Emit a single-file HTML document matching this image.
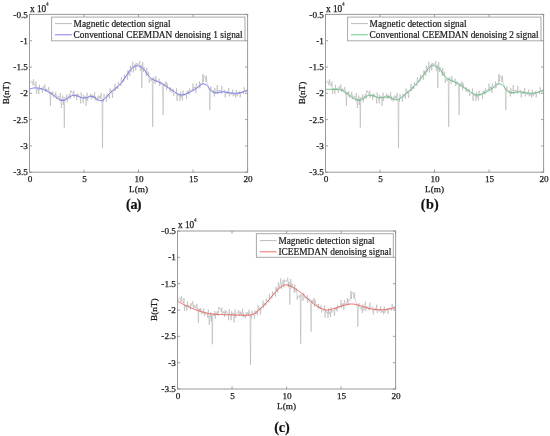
<!DOCTYPE html>
<html><head><meta charset="utf-8"><title>Magnetic detection signal denoising</title><style>
*{margin:0;padding:0}
html,body{width:550px;height:436px;overflow:hidden;background:#fff}
svg{display:block;filter:blur(0.4px)}
.t{font-family:"Liberation Serif",serif;font-size:9.2px;fill:#1a1a1a;stroke:#1a1a1a;stroke-width:0.25px}
.lt{font-family:"Liberation Serif",serif;font-size:9.3px;fill:#1a1a1a;stroke:#1a1a1a;stroke-width:0.2px}
.cap{font-family:"Liberation Serif",serif;font-weight:bold;font-size:14.2px;fill:#111;stroke:#111;stroke-width:0.2px}
.gr{fill:none;stroke:#a8a8a8;stroke-width:0.5}
.ax{fill:none;stroke:#9a9a9a;stroke-width:1}
.lg{fill:#fff;stroke:#a8a8a8;stroke-width:1}
.tk{fill:none;stroke:#8a8a8a;stroke-width:0.8}
</style></head><body>
<svg width="550" height="436" viewBox="0 0 550 436">
<rect width="550" height="436" fill="#fff"/>
<path d="M29.5 84.7L30.0 84.1 30.5 82.9 31.0 81.5 31.5 81.3 32.0 81.0 32.5 82.2 33.0 85.3 33.5 79.3 34.0 83.4 34.5 85.2 35.0 86.2 35.5 86.3 36.0 81.5 36.5 94.0 37.0 89.7 37.4 88.5 37.9 90.1 38.4 88.8 38.9 94.2 39.4 84.8 39.9 89.4 40.4 88.1 40.9 89.6 41.4 89.3 41.9 88.9 42.4 92.9 42.9 86.2 43.4 88.5 43.9 88.9 44.4 87.3 44.9 84.4 45.4 91.7 45.9 88.4 46.4 90.6 46.9 89.0 47.4 90.5 47.9 91.7 48.4 90.3 48.9 87.0 49.4 93.6 49.9 91.7 50.4 106.0 50.9 92.6 51.4 94.1 51.9 91.6 52.4 94.1 52.9 91.6 53.3 97.4 53.8 97.3 54.3 96.5 54.8 94.3 55.3 95.5 55.8 91.9 56.3 99.4 56.8 96.4 57.3 95.5 57.8 96.6 58.3 97.7 58.8 96.2 59.3 97.8 59.8 100.9 60.3 93.0 60.8 97.7 61.3 108.0 61.8 99.1 62.3 100.5 62.8 95.6 63.3 105.0 63.8 98.6 64.3 127.6 64.8 97.1 65.3 97.9 65.8 98.1 66.3 99.1 66.8 94.4 67.3 102.2 67.8 96.7 68.3 96.3 68.7 97.6 69.2 94.9 69.7 94.2 70.2 99.2 70.7 90.3 71.2 91.9 71.7 91.1 72.2 92.6 72.7 93.3 73.2 95.1 73.7 90.8 74.2 97.9 74.7 95.4 75.2 94.6 75.7 96.1 76.2 95.2 76.7 100.1 77.2 93.4 77.7 96.6 78.2 94.4 78.7 94.3 79.2 96.5 79.7 96.4 80.2 97.6 80.7 103.5 81.2 92.3 81.7 97.3 82.2 97.7 82.7 98.1 83.2 103.4 83.7 94.6 84.1 97.9 84.6 97.9 85.1 96.2 85.6 97.4 86.1 106.0 86.6 96.5 87.1 92.7 87.6 101.0 88.1 97.8 88.6 96.5 89.1 96.3 89.6 95.9 90.1 96.2 90.6 93.5 91.1 99.2 91.6 97.2 92.1 94.7 92.6 98.0 93.1 95.7 93.6 98.2 94.1 96.5 94.6 92.0 95.1 100.4 95.6 96.6 96.1 99.9 96.6 100.3 97.1 99.0 97.6 101.4 98.1 95.7 98.6 97.1 99.1 98.5 99.6 95.7 100.0 95.6 100.5 99.2 101.0 93.0 101.5 95.1 102.0 98.3 102.5 148.0 103.0 99.0 103.5 101.6 104.0 94.1 104.5 97.4 105.0 97.3 105.5 97.7 106.0 96.9 106.5 101.8 107.0 93.7 107.5 95.6 108.0 97.3 108.5 94.5 109.0 94.0 109.5 98.6 110.0 88.4 110.5 92.4 111.0 93.5 111.5 92.5 112.0 90.3 112.5 97.9 113.0 91.3 113.5 90.9 114.0 89.8 114.5 90.6 115.0 83.8 115.4 91.2 115.9 87.5 116.4 86.5 116.9 88.4 117.4 86.4 117.9 88.9 118.4 82.0 118.9 84.9 119.4 84.3 119.9 85.1 120.4 83.8 120.9 85.9 121.4 77.3 121.9 82.9 122.4 81.9 122.9 81.2 123.4 79.5 123.9 81.8 124.4 74.6 124.9 78.7 125.4 77.0 125.9 76.7 126.4 76.1 126.9 75.5 127.4 79.8 127.9 70.2 128.4 74.7 128.9 71.5 129.4 73.1 129.9 76.0 130.4 65.7 130.8 72.1 131.3 71.4 131.8 68.1 132.3 66.9 132.8 61.7 133.3 72.5 133.8 67.2 134.3 67.6 134.8 64.5 135.3 63.6 135.8 70.7 136.3 62.8 136.8 64.8 137.3 65.0 137.8 64.0 138.3 63.5 138.8 64.8 139.3 63.9 139.8 61.0 140.3 70.7 140.8 65.0 141.3 65.3 141.8 88.0 142.3 64.2 142.8 62.3 143.3 71.9 143.8 67.0 144.3 67.2 144.8 69.7 145.3 70.8 145.8 73.2 146.3 76.0 146.7 67.8 147.2 74.5 147.7 75.4 148.2 74.9 148.7 71.7 149.2 83.0 149.7 79.3 150.2 79.1 150.7 79.1 151.2 81.0 151.7 80.1 152.2 77.9 152.7 127.0 153.2 78.4 153.7 77.2 154.2 79.9 154.7 81.8 155.2 83.9 155.7 76.1 156.2 79.1 156.7 81.5 157.2 80.7 157.7 81.4 158.2 81.8 158.7 82.1 159.2 78.6 159.7 86.2 160.2 82.2 160.7 81.4 161.2 83.2 161.7 82.0 162.1 84.2 162.6 89.0 163.1 115.0 163.6 84.3 164.1 83.0 164.6 86.3 165.1 86.0 165.6 84.0 166.1 81.3 166.6 90.2 167.1 83.3 167.6 87.1 168.1 87.4 168.6 88.0 169.1 87.4 169.6 88.7 170.1 91.9 170.6 87.4 171.1 90.4 171.6 90.5 172.1 92.3 172.6 90.6 173.1 88.8 173.6 96.0 174.1 94.3 174.6 93.7 175.1 93.6 175.6 93.5 176.1 93.3 176.6 88.4 177.1 101.0 177.5 93.6 178.0 94.2 178.5 96.0 179.0 95.5 179.5 95.0 180.0 101.1 180.5 91.6 181.0 97.4 181.5 95.6 182.0 95.0 182.5 100.3 183.0 90.5 183.5 94.6 184.0 95.9 184.5 94.2 185.0 94.2 185.5 93.9 186.0 93.9 186.5 98.9 187.0 90.9 187.5 91.7 188.0 93.2 188.5 90.8 189.0 94.7 189.5 88.3 190.0 91.2 190.5 90.9 191.0 91.3 191.5 90.3 192.0 89.2 192.5 90.1 193.0 83.4 193.4 91.1 193.9 88.4 194.4 87.0 194.9 88.6 195.4 86.7 195.9 93.2 196.4 83.5 196.9 86.5 197.4 88.0 197.9 88.0 198.4 86.5 198.9 86.7 199.4 81.3 199.9 88.5 200.4 84.4 200.9 82.9 201.4 83.6 201.9 84.0 202.4 82.3 202.9 74.2 203.4 82.2 203.9 75.8 204.4 75.9 204.9 75.8 205.4 77.0 205.9 82.0 206.4 75.8 206.9 81.9 207.4 83.8 207.9 84.8 208.4 86.7 208.8 89.3 209.3 88.9 209.8 110.0 210.3 92.4 210.8 86.4 211.3 88.7 211.8 89.7 212.3 92.3 212.8 92.5 213.3 91.7 213.8 90.3 214.3 96.5 214.8 87.8 215.3 92.3 215.8 93.8 216.3 91.3 216.8 90.1 217.3 85.0 217.8 94.2 218.3 90.8 218.8 89.9 219.3 91.0 219.8 89.8 220.3 92.0 220.8 91.8 221.3 93.8 221.8 85.8 222.3 92.0 222.8 91.6 223.3 91.2 223.8 91.5 224.2 90.8 224.7 89.8 225.2 97.7 225.7 92.5 226.2 92.9 226.7 93.9 227.2 91.2 227.7 92.6 228.2 93.7 228.7 88.0 229.2 96.5 229.7 94.4 230.2 93.4 230.7 92.4 231.2 92.6 231.7 94.7 232.2 94.2 232.7 89.6 233.2 96.3 233.7 94.7 234.2 95.5 234.7 93.7 235.2 93.9 235.7 97.8 236.2 89.9 236.7 94.4 237.2 96.2 237.7 93.8 238.2 94.4 238.7 92.4 239.2 93.5 239.7 91.3 240.1 97.4 240.6 94.0 241.1 93.2 241.6 91.5 242.1 91.8 242.6 91.5 243.1 91.7 243.6 94.0 244.1 87.2 244.6 90.8 245.1 90.4 245.6 90.2 246.1 91.2 246.6 92.0 247.1 89.4 247.6 90.9" class="gr"/>
<path d="M325.5 84.7L326.0 84.1 326.5 82.9 327.0 81.5 327.5 81.3 328.0 81.0 328.5 82.2 329.0 85.3 329.5 79.3 330.0 83.4 330.5 85.2 331.0 86.2 331.5 86.3 332.0 81.5 332.5 94.0 333.0 89.7 333.4 88.5 333.9 90.1 334.4 88.8 334.9 94.2 335.4 84.8 335.9 89.4 336.4 88.1 336.9 89.6 337.4 89.3 337.9 88.9 338.4 92.9 338.9 86.2 339.4 88.5 339.9 88.9 340.4 87.3 340.9 84.4 341.4 91.7 341.9 88.4 342.4 90.6 342.9 89.0 343.4 90.5 343.9 91.7 344.4 90.3 344.9 87.0 345.4 93.6 345.9 91.7 346.4 106.0 346.9 92.6 347.4 94.1 347.9 91.6 348.4 94.1 348.9 91.6 349.3 97.4 349.8 97.3 350.3 96.5 350.8 94.3 351.3 95.5 351.8 91.9 352.3 99.4 352.8 96.4 353.3 95.5 353.8 96.6 354.3 97.7 354.8 96.2 355.3 97.8 355.8 100.9 356.3 93.0 356.8 97.7 357.3 108.0 357.8 99.1 358.3 100.5 358.8 95.6 359.3 105.0 359.8 98.6 360.3 127.6 360.8 97.1 361.3 97.9 361.8 98.1 362.3 99.1 362.8 94.4 363.3 102.2 363.8 96.7 364.3 96.3 364.7 97.6 365.2 94.9 365.7 94.2 366.2 99.2 366.7 90.3 367.2 91.9 367.7 91.1 368.2 92.6 368.7 93.3 369.2 95.1 369.7 90.8 370.2 97.9 370.7 95.4 371.2 94.6 371.7 96.1 372.2 95.2 372.7 100.1 373.2 93.4 373.7 96.6 374.2 94.4 374.7 94.3 375.2 96.5 375.7 96.4 376.2 97.6 376.7 103.5 377.2 92.3 377.7 97.3 378.2 97.7 378.7 98.1 379.2 103.4 379.7 94.6 380.1 97.9 380.6 97.9 381.1 96.2 381.6 97.4 382.1 106.0 382.6 96.5 383.1 92.7 383.6 101.0 384.1 97.8 384.6 96.5 385.1 96.3 385.6 95.9 386.1 96.2 386.6 93.5 387.1 99.2 387.6 97.2 388.1 94.7 388.6 98.0 389.1 95.7 389.6 98.2 390.1 96.5 390.6 92.0 391.1 100.4 391.6 96.6 392.1 99.9 392.6 100.3 393.1 99.0 393.6 101.4 394.1 95.7 394.6 97.1 395.1 98.5 395.6 95.7 396.0 95.6 396.5 99.2 397.0 93.0 397.5 95.1 398.0 98.3 398.5 148.0 399.0 99.0 399.5 101.6 400.0 94.1 400.5 97.4 401.0 97.3 401.5 97.7 402.0 96.9 402.5 101.8 403.0 93.7 403.5 95.6 404.0 97.3 404.5 94.5 405.0 94.0 405.5 98.6 406.0 88.4 406.5 92.4 407.0 93.5 407.5 92.5 408.0 90.3 408.5 97.9 409.0 91.3 409.5 90.9 410.0 89.8 410.5 90.6 411.0 83.8 411.4 91.2 411.9 87.5 412.4 86.5 412.9 88.4 413.4 86.4 413.9 88.9 414.4 82.0 414.9 84.9 415.4 84.3 415.9 85.1 416.4 83.8 416.9 85.9 417.4 77.3 417.9 82.9 418.4 81.9 418.9 81.2 419.4 79.5 419.9 81.8 420.4 74.6 420.9 78.7 421.4 77.0 421.9 76.7 422.4 76.1 422.9 75.5 423.4 79.8 423.9 70.2 424.4 74.7 424.9 71.5 425.4 73.1 425.9 76.0 426.4 65.7 426.8 72.1 427.3 71.4 427.8 68.1 428.3 66.9 428.8 61.7 429.3 72.5 429.8 67.2 430.3 67.6 430.8 64.5 431.3 63.6 431.8 70.7 432.3 62.8 432.8 64.8 433.3 65.0 433.8 64.0 434.3 63.5 434.8 64.8 435.3 63.9 435.8 61.0 436.3 70.7 436.8 65.0 437.3 65.3 437.8 88.0 438.3 64.2 438.8 62.3 439.3 71.9 439.8 67.0 440.3 67.2 440.8 69.7 441.3 70.8 441.8 73.2 442.3 76.0 442.7 67.8 443.2 74.5 443.7 75.4 444.2 74.9 444.7 71.7 445.2 83.0 445.7 79.3 446.2 79.1 446.7 79.1 447.2 81.0 447.7 80.1 448.2 77.9 448.7 127.0 449.2 78.4 449.7 77.2 450.2 79.9 450.7 81.8 451.2 83.9 451.7 76.1 452.2 79.1 452.7 81.5 453.2 80.7 453.7 81.4 454.2 81.8 454.7 82.1 455.2 78.6 455.7 86.2 456.2 82.2 456.7 81.4 457.2 83.2 457.7 82.0 458.1 84.2 458.6 89.0 459.1 115.0 459.6 84.3 460.1 83.0 460.6 86.3 461.1 86.0 461.6 84.0 462.1 81.3 462.6 90.2 463.1 83.3 463.6 87.1 464.1 87.4 464.6 88.0 465.1 87.4 465.6 88.7 466.1 91.9 466.6 87.4 467.1 90.4 467.6 90.5 468.1 92.3 468.6 90.6 469.1 88.8 469.6 96.0 470.1 94.3 470.6 93.7 471.1 93.6 471.6 93.5 472.1 93.3 472.6 88.4 473.1 101.0 473.5 93.6 474.0 94.2 474.5 96.0 475.0 95.5 475.5 95.0 476.0 101.1 476.5 91.6 477.0 97.4 477.5 95.6 478.0 95.0 478.5 100.3 479.0 90.5 479.5 94.6 480.0 95.9 480.5 94.2 481.0 94.2 481.5 93.9 482.0 93.9 482.5 98.9 483.0 90.9 483.5 91.7 484.0 93.2 484.5 90.8 485.0 94.7 485.5 88.3 486.0 91.2 486.5 90.9 487.0 91.3 487.5 90.3 488.0 89.2 488.5 90.1 489.0 83.4 489.4 91.1 489.9 88.4 490.4 87.0 490.9 88.6 491.4 86.7 491.9 93.2 492.4 83.5 492.9 86.5 493.4 88.0 493.9 88.0 494.4 86.5 494.9 86.7 495.4 81.3 495.9 88.5 496.4 84.4 496.9 82.9 497.4 83.6 497.9 84.0 498.4 82.3 498.9 74.2 499.4 82.2 499.9 75.8 500.4 75.9 500.9 75.8 501.4 77.0 501.9 82.0 502.4 75.8 502.9 81.9 503.4 83.8 503.9 84.8 504.4 86.7 504.8 89.3 505.3 88.9 505.8 110.0 506.3 92.4 506.8 86.4 507.3 88.7 507.8 89.7 508.3 92.3 508.8 92.5 509.3 91.7 509.8 90.3 510.3 96.5 510.8 87.8 511.3 92.3 511.8 93.8 512.3 91.3 512.8 90.1 513.3 85.0 513.8 94.2 514.3 90.8 514.8 89.9 515.3 91.0 515.8 89.8 516.3 92.0 516.8 91.8 517.3 93.8 517.8 85.8 518.3 92.0 518.8 91.6 519.3 91.2 519.8 91.5 520.2 90.8 520.7 89.8 521.2 97.7 521.7 92.5 522.2 92.9 522.7 93.9 523.2 91.2 523.7 92.6 524.2 93.7 524.7 88.0 525.2 96.5 525.7 94.4 526.2 93.4 526.7 92.4 527.2 92.6 527.7 94.7 528.2 94.2 528.7 89.6 529.2 96.3 529.7 94.7 530.2 95.5 530.7 93.7 531.2 93.9 531.7 97.8 532.2 89.9 532.7 94.4 533.2 96.2 533.7 93.8 534.2 94.4 534.7 92.4 535.2 93.5 535.7 91.3 536.1 97.4 536.6 94.0 537.1 93.2 537.6 91.5 538.1 91.8 538.6 91.5 539.1 91.7 539.6 94.0 540.1 87.2 540.6 90.8 541.1 90.4 541.6 90.2 542.1 91.2 542.6 92.0 543.1 89.4 543.6 90.9" class="gr"/>
<path d="M177.5 301.4L178.0 300.8 178.5 299.5 179.0 298.2 179.5 298.0 180.0 297.7 180.5 298.9 181.0 301.9 181.5 296.0 182.0 300.1 182.5 301.9 183.0 302.8 183.5 303.0 184.0 298.1 184.5 310.7 185.0 306.4 185.4 305.2 185.9 306.8 186.4 305.5 186.9 310.9 187.4 301.5 187.9 306.1 188.4 304.8 188.9 306.3 189.4 306.0 189.9 305.6 190.4 309.6 190.9 302.9 191.4 305.2 191.9 305.6 192.4 304.0 192.9 301.1 193.4 308.4 193.9 305.1 194.4 307.3 194.9 305.7 195.4 307.2 195.9 308.4 196.4 307.0 196.9 303.7 197.4 310.3 197.9 308.4 198.4 322.7 198.9 309.3 199.4 310.8 199.9 308.3 200.4 310.8 200.9 308.3 201.3 314.1 201.8 314.0 202.3 313.2 202.8 311.0 203.3 312.2 203.8 308.6 204.3 316.1 204.8 313.1 205.3 312.2 205.8 313.3 206.3 314.4 206.8 312.9 207.3 314.5 207.8 317.6 208.3 309.7 208.8 314.5 209.3 324.7 209.8 315.8 210.3 317.2 210.8 312.3 211.3 321.7 211.8 315.3 212.3 344.3 212.8 313.8 213.3 314.6 213.8 314.8 214.3 315.8 214.8 311.1 215.3 318.9 215.8 313.4 216.3 313.0 216.7 314.3 217.2 311.6 217.7 310.9 218.2 315.9 218.7 307.0 219.2 308.6 219.7 307.8 220.2 309.3 220.7 310.0 221.2 311.8 221.7 307.5 222.2 314.6 222.7 312.1 223.2 311.3 223.7 312.8 224.2 311.9 224.7 316.8 225.2 310.1 225.7 313.3 226.2 311.1 226.7 311.0 227.2 313.2 227.7 313.1 228.2 314.3 228.7 320.2 229.2 309.0 229.7 314.0 230.2 314.4 230.7 314.8 231.2 320.2 231.7 311.3 232.1 314.6 232.6 314.6 233.1 312.9 233.6 314.1 234.1 322.7 234.6 313.2 235.1 309.4 235.6 317.7 236.1 314.5 236.6 313.2 237.1 313.0 237.6 312.7 238.1 312.9 238.6 310.2 239.1 316.0 239.6 313.9 240.1 311.4 240.6 314.7 241.1 312.4 241.6 314.9 242.1 313.2 242.6 308.7 243.1 317.1 243.6 313.3 244.1 316.6 244.6 317.0 245.1 315.7 245.6 318.1 246.1 312.4 246.6 313.8 247.1 315.2 247.6 312.4 248.0 312.3 248.5 315.9 249.0 309.7 249.5 311.8 250.0 315.0 250.5 364.8 251.0 315.7 251.5 318.3 252.0 310.8 252.5 314.1 253.0 314.0 253.5 314.4 254.0 313.6 254.5 318.6 255.0 310.4 255.5 312.3 256.0 314.0 256.5 311.2 257.0 310.7 257.5 315.3 258.0 305.0 258.5 309.1 259.0 310.2 259.5 309.2 260.0 307.0 260.5 314.6 261.0 308.0 261.5 307.6 262.0 306.5 262.5 307.3 263.0 300.5 263.4 307.9 263.9 304.2 264.4 303.2 264.9 305.1 265.4 303.1 265.9 305.6 266.4 298.7 266.9 301.6 267.4 301.0 267.9 301.7 268.4 300.5 268.9 302.5 269.4 293.9 269.9 299.6 270.4 298.6 270.9 297.9 271.4 296.2 271.9 298.5 272.4 291.3 272.9 295.4 273.4 293.6 273.9 293.3 274.4 292.8 274.9 292.1 275.4 296.5 275.9 286.9 276.4 291.4 276.9 288.1 277.4 289.8 277.9 292.6 278.4 282.4 278.8 288.7 279.3 288.1 279.8 284.8 280.3 283.5 280.8 278.4 281.3 289.2 281.8 283.9 282.3 284.3 282.8 281.2 283.3 280.3 283.8 287.4 284.3 279.5 284.8 281.4 285.3 281.6 285.8 280.7 286.3 280.2 286.8 281.4 287.3 280.6 287.8 277.6 288.3 287.3 288.8 281.7 289.3 282.0 289.8 304.7 290.3 280.8 290.8 279.0 291.3 288.6 291.8 283.7 292.3 283.8 292.8 286.3 293.3 287.5 293.8 289.9 294.3 292.7 294.7 284.5 295.2 291.2 295.7 292.0 296.2 291.6 296.7 288.4 297.2 299.7 297.7 296.0 298.2 295.8 298.7 295.8 299.2 297.6 299.7 296.8 300.2 294.6 300.7 343.7 301.2 295.1 301.7 293.9 302.2 296.6 302.7 298.5 303.2 300.6 303.7 292.8 304.2 295.7 304.7 298.2 305.2 297.4 305.7 298.1 306.2 298.4 306.7 298.8 307.2 295.3 307.7 302.9 308.2 298.9 308.7 298.1 309.2 299.8 309.7 298.7 310.1 300.9 310.6 305.7 311.1 331.7 311.6 301.0 312.1 299.7 312.6 303.0 313.1 302.7 313.6 300.7 314.1 298.0 314.6 306.9 315.1 300.0 315.6 303.8 316.1 304.1 316.6 304.7 317.1 304.1 317.6 305.4 318.1 308.6 318.6 304.0 319.1 307.1 319.6 307.2 320.1 309.0 320.6 307.3 321.1 305.5 321.6 312.7 322.1 311.0 322.6 310.4 323.1 310.3 323.6 310.2 324.1 310.0 324.6 305.1 325.1 317.7 325.5 310.3 326.0 310.9 326.5 312.7 327.0 312.2 327.5 311.7 328.0 317.9 328.5 308.3 329.0 314.1 329.5 312.3 330.0 311.7 330.5 317.0 331.0 307.2 331.5 311.3 332.0 312.6 332.5 310.9 333.0 310.9 333.5 310.6 334.0 310.6 334.5 315.6 335.0 307.6 335.5 308.4 336.0 309.9 336.5 307.5 337.0 311.4 337.5 305.0 338.0 307.9 338.5 307.6 339.0 308.0 339.5 307.0 340.0 305.9 340.5 306.8 341.0 300.1 341.4 307.8 341.9 305.1 342.4 303.7 342.9 305.3 343.4 303.4 343.9 309.9 344.4 300.2 344.9 303.2 345.4 304.7 345.9 304.7 346.4 303.1 346.9 303.4 347.4 298.0 347.9 305.2 348.4 301.1 348.9 299.6 349.4 300.3 349.9 300.7 350.4 298.9 350.9 290.9 351.4 298.9 351.9 292.5 352.4 292.6 352.9 292.4 353.4 293.7 353.9 298.6 354.4 292.5 354.9 298.6 355.4 300.5 355.9 301.5 356.4 303.4 356.8 306.0 357.3 305.6 357.8 326.7 358.3 309.1 358.8 303.1 359.3 305.4 359.8 306.4 360.3 309.0 360.8 309.2 361.3 308.4 361.8 307.0 362.3 313.2 362.8 304.5 363.3 309.0 363.8 310.5 364.3 308.0 364.8 306.8 365.3 301.7 365.8 310.9 366.3 307.5 366.8 306.6 367.3 307.7 367.8 306.4 368.3 308.7 368.8 308.5 369.3 310.5 369.8 302.5 370.3 308.7 370.8 308.3 371.3 307.9 371.8 308.2 372.2 307.5 372.7 306.5 373.2 314.4 373.7 309.1 374.2 309.6 374.7 310.6 375.2 307.9 375.7 309.3 376.2 310.4 376.7 304.7 377.2 313.2 377.7 311.1 378.2 310.1 378.7 309.1 379.2 309.3 379.7 311.4 380.2 310.9 380.7 306.3 381.2 313.0 381.7 311.4 382.2 312.2 382.7 310.4 383.2 310.6 383.7 314.5 384.2 306.6 384.7 311.1 385.2 312.9 385.7 310.5 386.2 311.1 386.7 309.1 387.2 310.2 387.7 308.0 388.1 314.1 388.6 310.7 389.1 309.9 389.6 308.2 390.1 308.5 390.6 308.2 391.1 308.4 391.6 310.7 392.1 303.8 392.6 307.5 393.1 307.1 393.6 306.9 394.1 307.9 394.6 308.7 395.1 306.1 395.6 307.6" class="gr"/>
<path d="M29.50 89.30L30.05 89.05 30.59 88.83 31.14 88.63 31.69 88.46 32.23 88.31 32.78 88.18 33.33 88.07 33.87 87.99 34.42 87.93 34.97 87.89 35.51 87.87 36.06 87.86 36.61 87.88 37.15 87.92 37.70 87.97 38.25 88.05 38.79 88.13 39.34 88.24 39.89 88.36 40.43 88.50 40.98 88.65 41.53 88.82 42.07 89.00 42.62 89.19 43.17 89.40 43.71 89.61 44.26 89.84 44.81 90.09 45.35 90.34 45.90 90.60 46.45 90.87 46.99 91.15 47.54 91.44 48.08 91.74 48.63 92.06 49.18 92.38 49.72 92.71 50.27 93.06 50.82 93.41 51.36 93.78 51.91 94.16 52.46 94.55 53.00 94.95 53.55 95.37 54.10 95.79 54.64 96.21 55.19 96.64 55.74 97.06 56.28 97.48 56.83 97.89 57.38 98.28 57.92 98.65 58.47 99.01 59.02 99.34 59.56 99.64 60.11 99.90 60.66 100.13 61.20 100.30 61.75 100.43 62.30 100.51 62.84 100.52 63.39 100.46 63.94 100.34 64.48 100.17 65.03 99.94 65.58 99.67 66.12 99.36 66.67 99.03 67.22 98.67 67.76 98.30 68.31 97.91 68.86 97.53 69.40 97.16 69.95 96.80 70.50 96.46 71.04 96.16 71.59 95.89 72.14 95.67 72.68 95.50 73.23 95.40 73.78 95.35 74.32 95.35 74.87 95.40 75.42 95.49 75.96 95.62 76.51 95.77 77.06 95.94 77.60 96.14 78.15 96.34 78.70 96.55 79.24 96.77 79.79 96.98 80.34 97.18 80.88 97.37 81.43 97.55 81.98 97.70 82.52 97.82 83.07 97.91 83.62 97.96 84.16 97.98 84.71 97.97 85.25 97.92 85.80 97.84 86.35 97.72 86.89 97.58 87.44 97.41 87.99 97.20 88.53 96.98 89.08 96.75 89.63 96.54 90.17 96.37 90.72 96.27 91.27 96.25 91.81 96.29 92.36 96.41 92.91 96.58 93.45 96.80 94.00 97.07 94.55 97.37 95.09 97.70 95.64 98.06 96.19 98.43 96.73 98.81 97.28 99.18 97.83 99.54 98.37 99.87 98.92 100.17 99.47 100.41 100.01 100.60 100.56 100.71 101.11 100.74 101.65 100.67 102.20 100.51 102.75 100.25 103.29 99.92 103.84 99.51 104.39 99.05 104.93 98.53 105.48 97.98 106.03 97.39 106.57 96.78 107.12 96.16 107.67 95.55 108.21 94.93 108.76 94.32 109.31 93.72 109.85 93.14 110.40 92.59 110.95 92.06 111.49 91.56 112.04 91.08 112.59 90.63 113.13 90.19 113.68 89.77 114.23 89.35 114.77 88.94 115.32 88.53 115.87 88.12 116.41 87.69 116.96 87.25 117.51 86.80 118.05 86.32 118.60 85.83 119.15 85.30 119.69 84.75 120.24 84.17 120.78 83.55 121.33 82.89 121.88 82.20 122.42 81.46 122.97 80.69 123.52 79.89 124.06 79.06 124.61 78.23 125.16 77.39 125.70 76.54 126.25 75.70 126.80 74.86 127.34 74.03 127.89 73.22 128.44 72.42 128.98 71.65 129.53 70.91 130.08 70.20 130.62 69.54 131.17 68.93 131.72 68.37 132.26 67.86 132.81 67.41 133.36 67.03 133.90 66.71 134.45 66.44 135.00 66.23 135.54 66.08 136.09 65.97 136.64 65.91 137.18 65.89 137.73 65.91 138.28 65.97 138.82 66.08 139.37 66.23 139.92 66.42 140.46 66.67 141.01 66.98 141.56 67.34 142.10 67.76 142.65 68.24 143.20 68.78 143.74 69.38 144.29 70.03 144.84 70.71 145.38 71.43 145.93 72.16 146.48 72.91 147.02 73.67 147.57 74.42 148.12 75.16 148.66 75.87 149.21 76.53 149.76 77.15 150.30 77.70 150.85 78.17 151.40 78.58 151.94 78.94 152.49 79.26 153.04 79.54 153.58 79.79 154.13 80.04 154.68 80.28 155.22 80.52 155.77 80.77 156.32 81.02 156.86 81.27 157.41 81.53 157.95 81.79 158.50 82.06 159.05 82.32 159.59 82.60 160.14 82.87 160.69 83.15 161.23 83.43 161.78 83.72 162.33 84.02 162.87 84.33 163.42 84.65 163.97 84.98 164.51 85.32 165.06 85.68 165.61 86.04 166.15 86.40 166.70 86.77 167.25 87.13 167.79 87.49 168.34 87.84 168.89 88.19 169.43 88.53 169.98 88.87 170.53 89.21 171.07 89.56 171.62 89.90 172.17 90.25 172.71 90.61 173.26 90.97 173.81 91.35 174.35 91.72 174.90 92.10 175.45 92.46 175.99 92.82 176.54 93.16 177.09 93.48 177.63 93.78 178.18 94.06 178.73 94.30 179.27 94.50 179.82 94.67 180.37 94.79 180.91 94.87 181.46 94.91 182.01 94.89 182.55 94.84 183.10 94.75 183.65 94.62 184.19 94.47 184.74 94.29 185.29 94.10 185.83 93.89 186.38 93.67 186.93 93.45 187.47 93.22 188.02 93.00 188.57 92.77 189.11 92.53 189.66 92.29 190.21 92.04 190.75 91.79 191.30 91.52 191.85 91.24 192.39 90.95 192.94 90.65 193.48 90.33 194.03 89.99 194.58 89.65 195.12 89.28 195.67 88.91 196.22 88.52 196.76 88.11 197.31 87.69 197.86 87.25 198.40 86.80 198.95 86.35 199.50 85.90 200.04 85.48 200.59 85.08 201.14 84.72 201.68 84.41 202.23 84.16 202.78 83.99 203.32 83.90 203.87 83.90 204.42 83.99 204.96 84.17 205.51 84.44 206.06 84.79 206.60 85.22 207.15 85.74 207.70 86.33 208.24 86.99 208.79 87.69 209.34 88.41 209.88 89.13 210.43 89.82 210.98 90.46 211.52 91.02 212.07 91.50 212.62 91.89 213.16 92.19 213.71 92.43 214.26 92.60 214.80 92.72 215.35 92.78 215.90 92.81 216.44 92.80 216.99 92.76 217.54 92.70 218.08 92.62 218.63 92.52 219.18 92.42 219.72 92.31 220.27 92.20 220.82 92.11 221.36 92.02 221.91 91.95 222.46 91.90 223.00 91.88 223.55 91.89 224.10 91.92 224.64 91.97 225.19 92.03 225.74 92.11 226.28 92.20 226.83 92.30 227.38 92.41 227.92 92.52 228.47 92.62 229.02 92.73 229.56 92.83 230.11 92.92 230.65 93.00 231.20 93.08 231.75 93.14 232.29 93.20 232.84 93.25 233.39 93.29 233.93 93.31 234.48 93.33 235.03 93.33 235.57 93.33 236.12 93.31 236.67 93.28 237.21 93.24 237.76 93.18 238.31 93.12 238.85 93.04 239.40 92.95 239.95 92.84 240.49 92.73 241.04 92.60 241.59 92.46 242.13 92.31 242.68 92.14 243.23 91.96 243.77 91.77 244.32 91.57 244.87 91.36 245.41 91.13 245.96 90.89 246.51 90.64 247.05 90.38 247.60 90.10" fill="none" stroke="#6b6bf5" stroke-width="1"/>
<path d="M325.50 89.28L326.05 89.32 326.59 89.34 327.14 89.35 327.69 89.36 328.23 89.36 328.78 89.36 329.33 89.35 329.87 89.34 330.42 89.33 330.97 89.31 331.51 89.29 332.06 89.28 332.61 89.26 333.15 89.25 333.70 89.24 334.25 89.24 334.79 89.24 335.34 89.25 335.89 89.26 336.43 89.28 336.98 89.31 337.53 89.35 338.07 89.41 338.62 89.48 339.17 89.57 339.71 89.68 340.26 89.82 340.81 89.98 341.35 90.18 341.90 90.41 342.45 90.67 342.99 90.98 343.54 91.31 344.08 91.68 344.63 92.07 345.18 92.47 345.72 92.89 346.27 93.31 346.82 93.74 347.36 94.17 347.91 94.58 348.46 94.99 349.00 95.39 349.55 95.78 350.10 96.15 350.64 96.52 351.19 96.88 351.74 97.23 352.28 97.58 352.83 97.92 353.38 98.25 353.92 98.57 354.47 98.88 355.02 99.17 355.56 99.44 356.11 99.69 356.66 99.90 357.20 100.07 357.75 100.20 358.30 100.28 358.84 100.30 359.39 100.27 359.94 100.18 360.48 100.04 361.03 99.85 361.58 99.62 362.12 99.35 362.67 99.04 363.22 98.70 363.76 98.33 364.31 97.95 364.86 97.55 365.40 97.17 365.95 96.79 366.50 96.43 367.04 96.11 367.59 95.82 368.14 95.59 368.68 95.42 369.23 95.31 369.78 95.25 370.32 95.25 370.87 95.29 371.42 95.37 371.96 95.48 372.51 95.63 373.06 95.80 373.60 95.99 374.15 96.19 374.70 96.41 375.24 96.62 375.79 96.83 376.34 97.04 376.88 97.23 377.43 97.41 377.98 97.56 378.52 97.68 379.07 97.77 379.62 97.81 380.16 97.82 380.71 97.80 381.25 97.74 381.80 97.66 382.35 97.57 382.89 97.46 383.44 97.35 383.99 97.24 384.53 97.14 385.08 97.05 385.63 96.99 386.17 96.94 386.72 96.92 387.27 96.92 387.81 96.96 388.36 97.01 388.91 97.10 389.45 97.21 390.00 97.36 390.55 97.53 391.09 97.74 391.64 97.97 392.19 98.23 392.73 98.49 393.28 98.76 393.83 99.01 394.37 99.25 394.92 99.46 395.47 99.64 396.01 99.76 396.56 99.83 397.11 99.83 397.65 99.76 398.20 99.60 398.75 99.36 399.29 99.05 399.84 98.67 400.39 98.25 400.93 97.79 401.48 97.31 402.03 96.82 402.57 96.32 403.12 95.84 403.67 95.38 404.21 94.95 404.76 94.54 405.31 94.14 405.85 93.75 406.40 93.37 406.95 92.99 407.49 92.59 408.04 92.18 408.59 91.76 409.13 91.30 409.68 90.82 410.23 90.32 410.77 89.79 411.32 89.25 411.87 88.69 412.41 88.12 412.96 87.54 413.51 86.96 414.05 86.37 414.60 85.79 415.15 85.21 415.69 84.62 416.24 84.04 416.78 83.44 417.33 82.84 417.88 82.23 418.42 81.60 418.97 80.95 419.52 80.28 420.06 79.59 420.61 78.87 421.16 78.14 421.70 77.38 422.25 76.62 422.80 75.85 423.34 75.07 423.89 74.30 424.44 73.53 424.98 72.77 425.53 72.02 426.08 71.29 426.62 70.59 427.17 69.91 427.72 69.26 428.26 68.64 428.81 68.07 429.36 67.53 429.90 67.05 430.45 66.62 431.00 66.25 431.54 65.96 432.09 65.75 432.64 65.64 433.18 65.62 433.73 65.67 434.28 65.80 434.82 65.98 435.37 66.20 435.92 66.46 436.46 66.73 437.01 67.02 437.56 67.34 438.10 67.70 438.65 68.10 439.20 68.57 439.74 69.11 440.29 69.75 440.84 70.46 441.38 71.23 441.93 72.04 442.48 72.87 443.02 73.68 443.57 74.46 444.12 75.21 444.66 75.91 445.21 76.57 445.76 77.16 446.30 77.69 446.85 78.16 447.40 78.57 447.94 78.92 448.49 79.24 449.04 79.52 449.58 79.78 450.13 80.03 450.68 80.28 451.22 80.53 451.77 80.77 452.32 81.03 452.86 81.28 453.41 81.54 453.95 81.80 454.50 82.06 455.05 82.33 455.59 82.60 456.14 82.87 456.69 83.15 457.23 83.43 457.78 83.72 458.33 84.02 458.87 84.33 459.42 84.65 459.97 84.98 460.51 85.32 461.06 85.68 461.61 86.04 462.15 86.40 462.70 86.77 463.25 87.13 463.79 87.49 464.34 87.84 464.89 88.19 465.43 88.53 465.98 88.87 466.53 89.21 467.07 89.56 467.62 89.90 468.17 90.25 468.71 90.61 469.26 90.97 469.81 91.35 470.35 91.72 470.90 92.10 471.45 92.46 471.99 92.82 472.54 93.16 473.09 93.48 473.63 93.78 474.18 94.06 474.73 94.30 475.27 94.50 475.82 94.67 476.37 94.79 476.91 94.87 477.46 94.91 478.01 94.89 478.55 94.84 479.10 94.75 479.65 94.62 480.19 94.47 480.74 94.29 481.29 94.10 481.83 93.89 482.38 93.67 482.93 93.45 483.47 93.22 484.02 93.00 484.57 92.77 485.11 92.53 485.66 92.29 486.21 92.04 486.75 91.79 487.30 91.52 487.85 91.24 488.39 90.95 488.94 90.65 489.48 90.33 490.03 89.99 490.58 89.65 491.12 89.28 491.67 88.91 492.22 88.52 492.76 88.11 493.31 87.69 493.86 87.25 494.40 86.80 494.95 86.35 495.50 85.90 496.04 85.48 496.59 85.08 497.14 84.72 497.68 84.41 498.23 84.16 498.78 83.99 499.32 83.90 499.87 83.90 500.42 83.99 500.96 84.17 501.51 84.44 502.06 84.79 502.60 85.22 503.15 85.74 503.70 86.33 504.24 86.99 504.79 87.69 505.34 88.41 505.88 89.13 506.43 89.82 506.98 90.46 507.52 91.02 508.07 91.50 508.62 91.89 509.16 92.19 509.71 92.43 510.26 92.60 510.80 92.72 511.35 92.78 511.90 92.81 512.44 92.80 512.99 92.76 513.54 92.70 514.08 92.62 514.63 92.52 515.18 92.42 515.72 92.31 516.27 92.20 516.82 92.11 517.36 92.02 517.91 91.95 518.46 91.90 519.00 91.88 519.55 91.89 520.10 91.92 520.64 91.97 521.19 92.03 521.74 92.11 522.28 92.20 522.83 92.30 523.38 92.41 523.92 92.52 524.47 92.62 525.02 92.73 525.56 92.83 526.11 92.92 526.65 93.00 527.20 93.08 527.75 93.14 528.29 93.20 528.84 93.25 529.39 93.29 529.93 93.31 530.48 93.33 531.03 93.33 531.57 93.33 532.12 93.31 532.67 93.28 533.21 93.24 533.76 93.18 534.31 93.12 534.85 93.04 535.40 92.95 535.95 92.84 536.49 92.73 537.04 92.60 537.59 92.46 538.13 92.31 538.68 92.14 539.23 91.96 539.77 91.77 540.32 91.57 540.87 91.36 541.41 91.13 541.96 90.89 542.51 90.64 543.05 90.38 543.60 90.10" fill="none" stroke="#55bb77" stroke-width="1"/>
<path d="M177.50 301.30L178.05 301.59 178.59 301.88 179.14 302.17 179.69 302.46 180.23 302.75 180.78 303.03 181.33 303.31 181.87 303.59 182.42 303.87 182.97 304.14 183.51 304.42 184.06 304.69 184.61 304.96 185.15 305.22 185.70 305.48 186.25 305.74 186.79 306.00 187.34 306.26 187.89 306.51 188.43 306.76 188.98 307.01 189.53 307.25 190.07 307.49 190.62 307.73 191.17 307.97 191.71 308.20 192.26 308.43 192.81 308.65 193.35 308.87 193.90 309.09 194.45 309.31 194.99 309.52 195.54 309.73 196.08 309.93 196.63 310.14 197.18 310.33 197.72 310.53 198.27 310.72 198.82 310.91 199.36 311.09 199.91 311.27 200.46 311.44 201.00 311.61 201.55 311.78 202.10 311.94 202.64 312.10 203.19 312.25 203.74 312.40 204.28 312.54 204.83 312.68 205.38 312.82 205.92 312.94 206.47 313.07 207.02 313.19 207.56 313.30 208.11 313.41 208.66 313.51 209.20 313.61 209.75 313.70 210.30 313.78 210.84 313.86 211.39 313.94 211.94 314.01 212.48 314.07 213.03 314.13 213.58 314.18 214.12 314.23 214.67 314.27 215.22 314.31 215.76 314.34 216.31 314.38 216.86 314.41 217.40 314.43 217.95 314.45 218.50 314.48 219.04 314.49 219.59 314.51 220.14 314.53 220.68 314.54 221.23 314.55 221.78 314.57 222.32 314.58 222.87 314.59 223.42 314.61 223.96 314.62 224.51 314.63 225.06 314.65 225.60 314.66 226.15 314.68 226.70 314.69 227.24 314.71 227.79 314.72 228.34 314.74 228.88 314.76 229.43 314.78 229.98 314.79 230.52 314.81 231.07 314.83 231.62 314.85 232.16 314.87 232.71 314.89 233.25 314.92 233.80 314.94 234.35 314.96 234.89 314.99 235.44 315.01 235.99 315.04 236.53 315.06 237.08 315.09 237.63 315.11 238.17 315.14 238.72 315.16 239.27 315.19 239.81 315.21 240.36 315.23 240.91 315.25 241.45 315.27 242.00 315.28 242.55 315.30 243.09 315.31 243.64 315.32 244.19 315.33 244.73 315.33 245.28 315.33 245.83 315.33 246.37 315.32 246.92 315.31 247.47 315.29 248.01 315.27 248.56 315.25 249.11 315.20 249.65 315.15 250.20 315.07 250.75 314.97 251.29 314.84 251.84 314.69 252.39 314.50 252.93 314.27 253.48 314.02 254.03 313.73 254.57 313.42 255.12 313.07 255.67 312.71 256.21 312.32 256.76 311.91 257.31 311.49 257.85 311.04 258.40 310.58 258.95 310.11 259.49 309.63 260.04 309.14 260.59 308.64 261.13 308.12 261.68 307.60 262.23 307.07 262.77 306.53 263.32 305.99 263.87 305.43 264.41 304.86 264.96 304.28 265.51 303.70 266.05 303.11 266.60 302.50 267.15 301.89 267.69 301.27 268.24 300.64 268.78 300.01 269.33 299.37 269.88 298.73 270.42 298.08 270.97 297.44 271.52 296.79 272.06 296.14 272.61 295.50 273.16 294.85 273.70 294.21 274.25 293.57 274.80 292.94 275.34 292.32 275.89 291.71 276.44 291.11 276.98 290.53 277.53 289.96 278.08 289.41 278.62 288.89 279.17 288.38 279.72 287.91 280.26 287.46 280.81 287.04 281.36 286.65 281.90 286.30 282.45 285.98 283.00 285.70 283.54 285.46 284.09 285.26 284.64 285.10 285.18 284.98 285.73 284.91 286.28 284.88 286.82 284.89 287.37 284.95 287.92 285.04 288.46 285.17 289.01 285.33 289.56 285.52 290.10 285.74 290.65 285.98 291.20 286.25 291.74 286.54 292.29 286.84 292.84 287.16 293.38 287.49 293.93 287.83 294.48 288.18 295.02 288.53 295.57 288.89 296.12 289.25 296.66 289.62 297.21 290.00 297.76 290.38 298.30 290.78 298.85 291.17 299.40 291.58 299.94 291.99 300.49 292.42 301.04 292.84 301.58 293.28 302.13 293.73 302.68 294.18 303.22 294.65 303.77 295.12 304.32 295.60 304.86 296.09 305.41 296.58 305.95 297.08 306.50 297.58 307.05 298.08 307.59 298.59 308.14 299.09 308.69 299.59 309.23 300.08 309.78 300.58 310.33 301.06 310.87 301.54 311.42 302.01 311.97 302.46 312.51 302.91 313.06 303.35 313.61 303.77 314.15 304.18 314.70 304.57 315.25 304.96 315.79 305.33 316.34 305.69 316.89 306.04 317.43 306.37 317.98 306.70 318.53 307.01 319.07 307.31 319.62 307.60 320.17 307.88 320.71 308.15 321.26 308.40 321.81 308.65 322.35 308.88 322.90 309.10 323.45 309.30 323.99 309.49 324.54 309.65 325.09 309.79 325.63 309.90 326.18 309.99 326.73 310.04 327.27 310.06 327.82 310.05 328.37 310.02 328.91 309.96 329.46 309.88 330.01 309.78 330.55 309.67 331.10 309.53 331.65 309.38 332.19 309.22 332.74 309.05 333.29 308.87 333.83 308.68 334.38 308.49 334.93 308.30 335.47 308.11 336.02 307.92 336.57 307.73 337.11 307.54 337.66 307.36 338.21 307.18 338.75 307.00 339.30 306.82 339.85 306.64 340.39 306.47 340.94 306.30 341.48 306.13 342.03 305.97 342.58 305.81 343.12 305.65 343.67 305.49 344.22 305.33 344.76 305.18 345.31 305.03 345.86 304.89 346.40 304.75 346.95 304.62 347.50 304.50 348.04 304.39 348.59 304.29 349.14 304.20 349.68 304.12 350.23 304.07 350.78 304.03 351.32 304.00 351.87 304.00 352.42 304.02 352.96 304.06 353.51 304.11 354.06 304.18 354.60 304.27 355.15 304.37 355.70 304.48 356.24 304.60 356.79 304.74 357.34 304.88 357.88 305.04 358.43 305.19 358.98 305.36 359.52 305.53 360.07 305.70 360.62 305.87 361.16 306.05 361.71 306.22 362.26 306.40 362.80 306.57 363.35 306.75 363.90 306.92 364.44 307.09 364.99 307.26 365.54 307.42 366.08 307.58 366.63 307.74 367.18 307.90 367.72 308.05 368.27 308.20 368.82 308.34 369.36 308.47 369.91 308.60 370.46 308.73 371.00 308.84 371.55 308.95 372.10 309.06 372.64 309.16 373.19 309.25 373.74 309.33 374.28 309.41 374.83 309.48 375.38 309.55 375.92 309.60 376.47 309.65 377.02 309.70 377.56 309.73 378.11 309.76 378.65 309.79 379.20 309.80 379.75 309.81 380.29 309.81 380.84 309.81 381.39 309.79 381.93 309.77 382.48 309.75 383.03 309.72 383.57 309.68 384.12 309.63 384.67 309.58 385.21 309.52 385.76 309.46 386.31 309.39 386.85 309.32 387.40 309.24 387.95 309.16 388.49 309.07 389.04 308.97 389.59 308.87 390.13 308.77 390.68 308.66 391.23 308.55 391.77 308.43 392.32 308.31 392.87 308.18 393.41 308.05 393.96 307.92 394.51 307.78 395.05 307.64 395.60 307.50" fill="none" stroke="#ee5555" stroke-width="1"/>
<rect x="51.60" y="17.10" width="193.40" height="23.70" class="lg"/>
<path d="M54.90 23.60H71.80" stroke="#b4b4b4" stroke-width="0.9" fill="none"/>
<text x="73.60" y="26.70" class="lt" textLength="97.0" lengthAdjust="spacingAndGlyphs">Magnetic detection signal</text>
<path d="M54.90 34.80H71.80" stroke="#7070f0" stroke-width="0.9" fill="none"/>
<text x="73.60" y="37.90" class="lt" textLength="169.0" lengthAdjust="spacingAndGlyphs">Conventional CEEMDAN denoising 1 signal</text>
<rect x="29.50" y="14.40" width="218.10" height="157.80" class="ax"/>
<path d="M29.50 172.20V169.60M29.50 14.40V17.00M84.03 172.20V169.60M84.03 14.40V17.00M138.55 172.20V169.60M138.55 14.40V17.00M193.07 172.20V169.60M193.07 14.40V17.00M247.60 172.20V169.60M247.60 14.40V17.00M29.50 14.40H32.10M247.60 14.40H245.00M29.50 40.70H32.10M247.60 40.70H245.00M29.50 67.00H32.10M247.60 67.00H245.00M29.50 93.30H32.10M247.60 93.30H245.00M29.50 119.60H32.10M247.60 119.60H245.00M29.50 145.90H32.10M247.60 145.90H245.00M29.50 172.20H32.10M247.60 172.20H245.00" class="tk"/>
<text x="27.90" y="17.50" class="t" text-anchor="end">-0.5</text>
<text x="27.90" y="43.80" class="t" text-anchor="end">-1</text>
<text x="27.90" y="70.10" class="t" text-anchor="end">-1.5</text>
<text x="27.90" y="96.40" class="t" text-anchor="end">-2</text>
<text x="27.90" y="122.70" class="t" text-anchor="end">-2.5</text>
<text x="27.90" y="149.00" class="t" text-anchor="end">-3</text>
<text x="27.90" y="175.30" class="t" text-anchor="end">-3.5</text>
<text x="30.00" y="182.40" class="t" text-anchor="middle">0</text>
<text x="84.53" y="182.40" class="t" text-anchor="middle">5</text>
<text x="139.05" y="182.40" class="t" text-anchor="middle">10</text>
<text x="193.57" y="182.40" class="t" text-anchor="middle">15</text>
<text x="248.10" y="182.40" class="t" text-anchor="middle">20</text>
<text x="29.90" y="11.60" class="t" style="font-size:10px" textLength="16.3" lengthAdjust="spacingAndGlyphs">x 10</text>
<text x="46.10" y="5.50" class="t" style="font-size:5.2px;stroke-width:0.15px">4</text>
<text class="t" text-anchor="middle" transform="translate(9.00 93.00) rotate(-90)">B(nT)</text>
<text x="138.55" y="192.00" class="t" text-anchor="middle">L(m)</text>
<text x="126.00 130.45 136.70" y="208.75" class="cap">(a)</text>
<rect x="347.60" y="17.10" width="193.40" height="23.70" class="lg"/>
<path d="M350.90 23.60H367.80" stroke="#b4b4b4" stroke-width="0.9" fill="none"/>
<text x="369.60" y="26.70" class="lt" textLength="97.0" lengthAdjust="spacingAndGlyphs">Magnetic detection signal</text>
<path d="M350.90 34.80H367.80" stroke="#60c080" stroke-width="0.9" fill="none"/>
<text x="369.60" y="37.90" class="lt" textLength="169.0" lengthAdjust="spacingAndGlyphs">Conventional CEEMDAN denoising 2 signal</text>
<rect x="325.50" y="14.40" width="218.10" height="157.80" class="ax"/>
<path d="M325.50 172.20V169.60M325.50 14.40V17.00M380.02 172.20V169.60M380.02 14.40V17.00M434.55 172.20V169.60M434.55 14.40V17.00M489.08 172.20V169.60M489.08 14.40V17.00M543.60 172.20V169.60M543.60 14.40V17.00M325.50 14.40H328.10M543.60 14.40H541.00M325.50 40.70H328.10M543.60 40.70H541.00M325.50 67.00H328.10M543.60 67.00H541.00M325.50 93.30H328.10M543.60 93.30H541.00M325.50 119.60H328.10M543.60 119.60H541.00M325.50 145.90H328.10M543.60 145.90H541.00M325.50 172.20H328.10M543.60 172.20H541.00" class="tk"/>
<text x="323.90" y="17.50" class="t" text-anchor="end">-0.5</text>
<text x="323.90" y="43.80" class="t" text-anchor="end">-1</text>
<text x="323.90" y="70.10" class="t" text-anchor="end">-1.5</text>
<text x="323.90" y="96.40" class="t" text-anchor="end">-2</text>
<text x="323.90" y="122.70" class="t" text-anchor="end">-2.5</text>
<text x="323.90" y="149.00" class="t" text-anchor="end">-3</text>
<text x="323.90" y="175.30" class="t" text-anchor="end">-3.5</text>
<text x="326.00" y="182.40" class="t" text-anchor="middle">0</text>
<text x="380.52" y="182.40" class="t" text-anchor="middle">5</text>
<text x="435.05" y="182.40" class="t" text-anchor="middle">10</text>
<text x="489.58" y="182.40" class="t" text-anchor="middle">15</text>
<text x="544.10" y="182.40" class="t" text-anchor="middle">20</text>
<text x="325.90" y="11.60" class="t" style="font-size:10px" textLength="16.3" lengthAdjust="spacingAndGlyphs">x 10</text>
<text x="342.10" y="5.50" class="t" style="font-size:5.2px;stroke-width:0.15px">4</text>
<text class="t" text-anchor="middle" transform="translate(305.00 93.00) rotate(-90)">B(nT)</text>
<text x="434.55" y="192.00" class="t" text-anchor="middle">L(m)</text>
<text x="420.73 425.97 434.00" y="208.70" class="cap">(b)</text>
<rect x="256.40" y="233.70" width="136.90" height="23.60" class="lg"/>
<path d="M259.70 240.60H276.60" stroke="#b4b4b4" stroke-width="0.9" fill="none"/>
<text x="278.40" y="243.70" class="lt" textLength="96.3" lengthAdjust="spacingAndGlyphs">Magnetic detection signal</text>
<path d="M259.70 251.80H276.60" stroke="#f06060" stroke-width="0.9" fill="none"/>
<text x="278.40" y="254.90" class="lt" textLength="113.0" lengthAdjust="spacingAndGlyphs">ICEEMDAN denoising signal</text>
<rect x="177.50" y="231.00" width="218.10" height="158.00" class="ax"/>
<path d="M177.50 389.00V386.40M177.50 231.00V233.60M232.03 389.00V386.40M232.03 231.00V233.60M286.55 389.00V386.40M286.55 231.00V233.60M341.08 389.00V386.40M341.08 231.00V233.60M395.60 389.00V386.40M395.60 231.00V233.60M177.50 231.00H180.10M395.60 231.00H393.00M177.50 257.33H180.10M395.60 257.33H393.00M177.50 283.67H180.10M395.60 283.67H393.00M177.50 310.00H180.10M395.60 310.00H393.00M177.50 336.33H180.10M395.60 336.33H393.00M177.50 362.67H180.10M395.60 362.67H393.00M177.50 389.00H180.10M395.60 389.00H393.00" class="tk"/>
<text x="175.90" y="234.10" class="t" text-anchor="end">-0.5</text>
<text x="175.90" y="260.43" class="t" text-anchor="end">-1</text>
<text x="175.90" y="286.77" class="t" text-anchor="end">-1.5</text>
<text x="175.90" y="313.10" class="t" text-anchor="end">-2</text>
<text x="175.90" y="339.43" class="t" text-anchor="end">-2.5</text>
<text x="175.90" y="365.77" class="t" text-anchor="end">-3</text>
<text x="175.90" y="392.10" class="t" text-anchor="end">-3.5</text>
<text x="178.00" y="399.20" class="t" text-anchor="middle">0</text>
<text x="232.53" y="399.20" class="t" text-anchor="middle">5</text>
<text x="287.05" y="399.20" class="t" text-anchor="middle">10</text>
<text x="341.58" y="399.20" class="t" text-anchor="middle">15</text>
<text x="396.10" y="399.20" class="t" text-anchor="middle">20</text>
<text x="177.90" y="228.20" class="t" style="font-size:10px" textLength="16.3" lengthAdjust="spacingAndGlyphs">x 10</text>
<text x="194.10" y="222.10" class="t" style="font-size:5.2px;stroke-width:0.15px">4</text>
<text class="t" text-anchor="middle" transform="translate(157.00 309.70) rotate(-90)">B(nT)</text>
<text x="286.55" y="408.80" class="t" text-anchor="middle">L(m)</text>
<text x="274.18 278.82 285.10" y="431.80" class="cap">(c)</text>
</svg>
</body></html>
